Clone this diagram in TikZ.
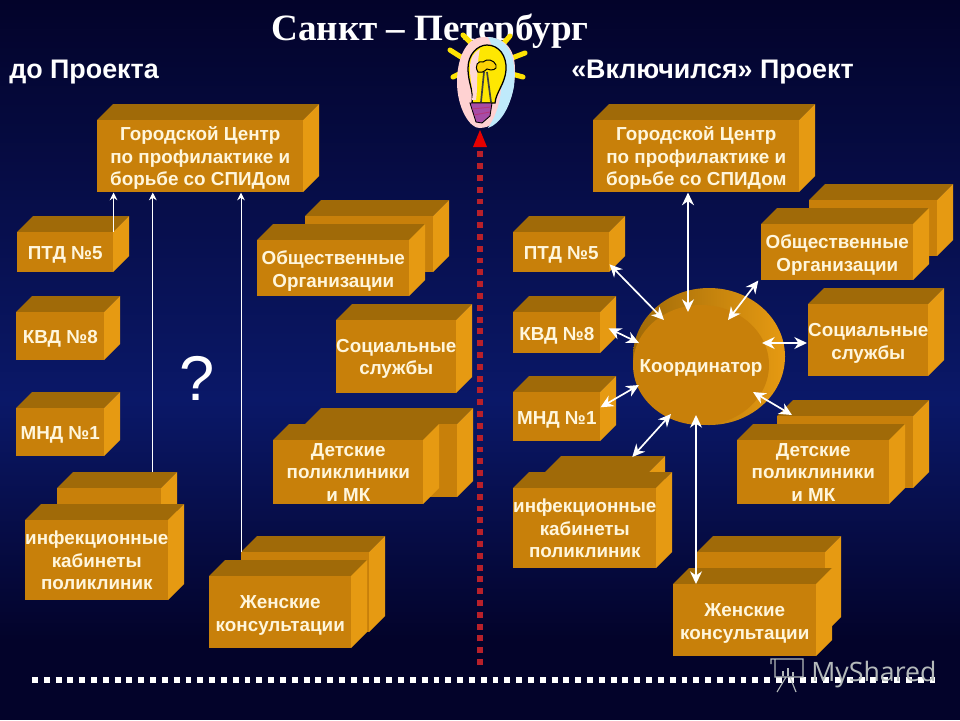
\documentclass[tikz,border=0pt]{standalone}
\usepackage{fontspec}
\setmainfont{Liberation Sans}
\newfontfamily\titlefont{Liberation Serif}
\newfontfamily\brandfont{Open Sans}
\usetikzlibrary{shapes.geometric,arrows.meta}

\definecolor{boxfront}{HTML}{C8800A}
\definecolor{boxtop}{HTML}{A06A08}
\definecolor{boxside}{HTML}{E69A12}
\definecolor{boxtext}{HTML}{FFF6DC}
\definecolor{skydark}{HTML}{03032A}
\definecolor{skyblue}{HTML}{0A1868}
\definecolor{dotred}{HTML}{B8202A}
\definecolor{brandgrey}{HTML}{B4BABA}

\tikzstyle{boxlabel} = [text=boxtext,font=\bfseries\fontsize{13.4}{16}\selectfont,align=center,inner sep=0pt]
\tikzstyle{front} = [fill=boxfront,inner sep=0pt,anchor=north west]
\tikzstyle{link} = [draw=white,line width=1.2pt,{Stealth[length=9pt,width=8.5pt]}-{Stealth[length=9pt,width=8.5pt]}]
\tikzstyle{uplink} = [draw=white,line width=0.7pt,-{Stealth[length=5.5pt,width=5.5pt]}]
\tikzstyle{heading} = [text=white,font=\bfseries\fontsize{19.1}{22}\selectfont,anchor=west,inner sep=0pt]

% one box: front face as a node, top and side behind it
\newcommand{\cargo}[8]{
    \fill[boxtop] (#2,#3) -- ++(#6,-#6) -- ++(#4,0) -- ++(-#6,#6) -- cycle;
    \fill[boxside] (#2+#4,#3) -- ++(#6,-#6) -- ++(0,#5) -- ++(-#6,#6) -- cycle;
    \node[front,minimum width=#4*0.25mm,minimum height=#5*0.25mm,label={[boxlabel,yshift=-#8*0.25mm]center:#7}] (#1) at (#2,#3) {};
}

\begin{document}
\begin{tikzpicture}[x=0.25mm,y=-0.25mm]
    \useasboundingbox (0,0) rectangle (960,720);
    % First the background
    \shade[top color=skydark,bottom color=skyblue] (0,0) rectangle (960,400);
    \shade[top color=skyblue,bottom color=skydark] (0,400) rectangle (960,640);
    \fill[skydark] (0,640) rectangle (960,720);

    % Headings
    \node[text=white,font=\titlefont\bfseries\fontsize{26.4}{30}\selectfont,anchor=west,inner sep=0pt] (title) at (271,31) {Санкт – Петербург};
    \node[heading] (before) at (9,72) {до Проекта};
    \node[heading] (after) at (571,72) {«Включился» Проект};

    % Divider lines
    \draw[dotred,line width=4.2pt,dash pattern=on 4.2pt off 4.2pt] (480,665) -- (480,146);
    \draw[white,line width=4.2pt,dash pattern=on 4.2pt off 4.2pt] (32,680) -- (937,680);
    \fill[red!90!black] (480,130) -- (487,147) -- (473,147) -- cycle;

    % The lamp
    \foreach \a/\b/\c/\d in {450/50/461/57, 453/77/463/72, 525/53/512/58, 523/77/512/74, 463/35/471/43, 510/36/503/44}
        \draw[yellow!85!orange,line width=3.6pt,line cap=round] (\a,\b) -- (\c,\d);
    \fill[pink!70!white] (484,37) .. controls (464,37) and (457,62) .. (457,82) .. controls (457,108) and (470,129) .. (480,128) .. controls (502,127) and (515,100) .. (515,70) .. controls (515,52) and (508,37) .. (484,37) -- cycle;
    \fill[cyan!25!white] (488,37) .. controls (508,38) and (517,56) .. (514,86) .. controls (510,108) and (500,124) .. (488,128) .. controls (500,110) and (510,80) .. (488,37) -- cycle;
    \filldraw[fill=yellow!90!orange,draw=black,line width=0.9pt] (472,103) .. controls (474,90) and (468,84) .. (468,68) .. controls (468,54) and (478,45) .. (487,45) .. controls (499,45) and (507,56) .. (506,70) .. controls (505,84) and (496,92) .. (495,103) -- cycle;
    \fill[pink!60!white] (472,100) .. controls (474,90) and (470,84) .. (470,68) .. controls (470,58) and (474,52) .. (480,49) .. controls (476,66) and (478,88) .. (476,100) -- cycle;
    \draw[black!75,line width=1.2pt] (481,102) -- (484,72) (491,102) -- (487,72);
    \filldraw[fill=yellow!70!orange,draw=black,line width=0.7pt] (478,72) .. controls (474,66) and (478,60) .. (483,62) .. controls (487,58) and (494,60) .. (496,65) .. controls (498,70) and (491,71) .. (487,69) .. controls (484,72) and (481,73) .. (478,72) -- cycle;
    \filldraw[fill=violet!70!white,draw=black,line width=0.6pt] (470,103) -- (492,103) -- (490,116) -- (482,123) -- (476,122) -- cycle;
    \draw[magenta!70!black,line width=0.7pt] (472,109) -- (491,107) (474,115) -- (490,112);

    % Boxes of the left half
    \foreach \name/\x/\y/\w/\h/\d/\txt/\low in {
        centreL/97/120/206/72/16/{Городской Центр\\по профилактике и\\борьбе со СПИДом}/2,
        ptdL/17/232/96/40/16/{ПТД №5}/3,
        kvdL/16/312/88/48/16/{КВД №8}/3,
        mndL/16/408/88/48/16/{МНД №1}/3,
        infBackL/57/488/104/40/16/{}/0,
        infL/25/520/143/80/16/{инфекционные\\кабинеты\\поликлиник}/0,
        orgBackL/305/216/128/56/16/{}/0,
        orgL/257/240/152/56/16/{Общественные\\Организации}/3,
        socL/336/320/120/73/16/{Социальные\\службы}/2,
        kidBackL/305/424/152/73/16/{}/0,
        kidL/273/440/150/64/16/{Детские\\поликлиники\\и МК}/0,
        womBackL/241/552/128/80/16/{}/0,
        womL/209/576/142/72/16/{Женские\\консультации}/3}
        \cargo{\name}{\x}{\y}{\w}{\h}{\d}{\txt}{\low};

    % Boxes of the right half
    \foreach \name/\x/\y/\w/\h/\d/\txt/\low in {
        centreR/593/120/206/72/16/{Городской Центр\\по профилактике и\\борьбе со СПИДом}/2,
        ptdR/513/232/96/40/16/{ПТД №5}/3,
        kvdR/513/312/87/41/16/{КВД №8}/3,
        mndR/513/392/87/49/16/{МНД №1}/3,
        infBackR/545/472/104/40/16/{}/0,
        infR/513/488/143/80/16/{инфекционные\\кабинеты\\поликлиник}/0,
        orgBackR/809/200/128/56/16/{}/0,
        orgR/761/224/152/56/16/{Общественные\\Организации}/3,
        socR/808/304/120/72/16/{Социальные\\службы}/3,
        kidBackR/777/416/136/72/16/{}/0,
        kidR/737/440/152/64/16/{Детские\\поликлиники\\и МК}/0,
        womBackR/697/552/128/81/16/{}/0,
        womR/673/584/143/72/16/{Женские\\консультации}/3}
        \cargo{\name}{\x}{\y}{\w}{\h}{\d}{\txt}{\low};

    % The coordinator
    \shade[left color=boxtop,right color=boxside] (709,356.5) ellipse (76 and 68.5);
    \node[ellipse,fill=boxfront,inner sep=0pt,minimum width=136*0.25mm,minimum height=120*0.25mm] (koord) at (701,365) {};
    \node[boxlabel,yshift=-0.75mm] (koordtext) at (koord) {Координатор};

    % Arrows of the left half
    \coordinate (infTop) at ([shift={(43.5,-16)}]infBackL.north);
    \path[uplink] (ptdL.north east) -- (ptdL.north east |- centreL.south);
    \path[uplink] (infTop) -- (infTop |- centreL.south);
    \path[uplink] (womBackL.north west) -- (womBackL.north west |- centreL.south);
    \node[text=white,font=\fontsize{45}{48}\selectfont,inner sep=0pt] (ask) at (197,378) {?};

    % Arrows of the right half
    \coordinate (kA) at (664,320);
    \coordinate (kB) at (688,312);
    \coordinate (kC) at (728,320);
    \coordinate (kD) at (639,343);
    \coordinate (kE) at (762,343);
    \coordinate (kF) at (639,385);
    \coordinate (kG) at (671,414);
    \coordinate (kH) at (753,392);
    \coordinate (kI) at (696,415);
    \path[link] (ptdR.-14) -- (kA);
    \path[link] (centreR.south -| kB) -- (kB);
    \path[link] ([shift={(-79,0)}]orgR.south) -- (kC);
    \path[link] ([shift={(8,-4.5)}]kvdR.east) -- (kD);
    \path[link] ([shift={(-1,0)}]socR.west |- kE) -- (kE);
    \path[link] ([shift={(0,-9.5)}]mndR.east) -- (kF);
    \path[link] ([shift={(35,-15)}]infBackR.north) -- (kG);
    \path[link] ([shift={(15,-1)}]kidBackR.north west) -- (kH);
    \path[link] (womR.north -| kI) -- (kI);

    % Watermark
    \node[text=brandgrey,font=\brandfont\fontsize{19}{21}\selectfont,anchor=west,inner sep=0pt] (brand) at (811,675) {MyShared};
    \draw[brandgrey,line width=0.8pt] (771,664) -- (771,659) -- (803,659) -- (803,677) -- (775,677) -- (775,659) (786,677) -- (777,692) (790,677) -- (796,692);
    \draw[brandgrey,line width=1.6pt] (783,676) -- (783,671) (788,676) -- (788,668) (793,676) -- (793,672);
\end{tikzpicture}
\end{document}
